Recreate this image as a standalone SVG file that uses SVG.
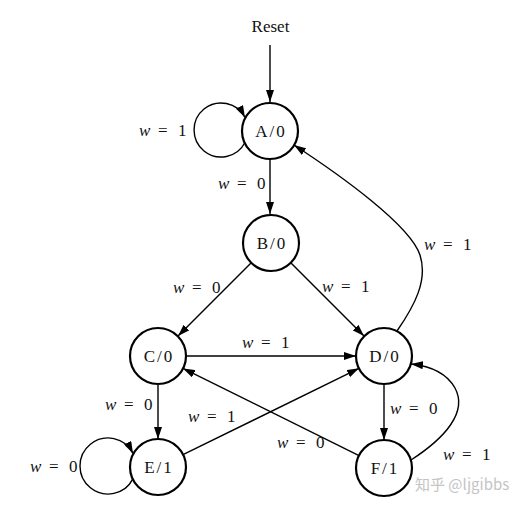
<svg xmlns="http://www.w3.org/2000/svg" width="526" height="507" viewBox="0 0 526 507">
<defs>
<marker id="arr" markerUnits="userSpaceOnUse" markerWidth="12" markerHeight="8" refX="12" refY="4" orient="auto">
<path d="M0,0 L12,4 L0,8 Z" fill="#000"/>
</marker>
<style>
.node circle{fill:#fff;stroke:#000;stroke-width:2.2}
.node text{font-size:17px;text-anchor:middle;fill:#111}
.edges path,.edges line{fill:none;stroke:#000;stroke-width:1.4;marker-end:url(#arr)}
.lbl{font-size:17px;fill:#111}
.lbl .w{font-style:italic}
</style>
</defs>
<rect width="526" height="507" fill="#fff"/>
<g font-family="'Liberation Serif', 'DejaVu Serif', serif">
<text x="270.5" y="32" class="lbl" text-anchor="middle">Reset</text>
<g class="edges">
<line x1="270" y1="45" x2="270" y2="102"/>
<path d="M245,142.5 A27 27 0 1 1 245,117.5"/>
<line x1="270" y1="159" x2="270" y2="214"/>
<line x1="251" y1="263" x2="178" y2="336"/>
<line x1="291" y1="263" x2="364" y2="336"/>
<line x1="186" y1="356" x2="356" y2="356"/>
<line x1="158" y1="385" x2="158" y2="439"/>
<line x1="384" y1="384" x2="384" y2="440"/>
<line x1="183" y1="454.7" x2="359" y2="368.3"/>
<line x1="359" y1="455.6" x2="183" y2="368.4"/>
<path d="M397,331 C415,305 428,280 420,255 C410,225 340,175 294,145"/>
<path d="M411,460 C445,438 468,412 455,388 C446,372 430,366 411,364"/>
<path d="M133,478.6 A28 28 0 1 1 133,453.4"/>
</g>
<g id="A" class="node"><circle cx="270" cy="131" r="28"/><text x="271" y="137" letter-spacing="2">A/0</text></g>
<g id="B" class="node"><circle cx="271" cy="243" r="28"/><text x="272" y="249" letter-spacing="2">B/0</text></g>
<g id="C" class="node"><circle cx="158" cy="356" r="28"/><text x="159" y="362" letter-spacing="2">C/0</text></g>
<g id="D" class="node"><circle cx="384" cy="356" r="28"/><text x="385" y="362" letter-spacing="2">D/0</text></g>
<g id="E" class="node"><circle cx="158" cy="467" r="28"/><text x="159" y="473" letter-spacing="2">E/1</text></g>
<g id="F" class="node"><circle cx="384" cy="468" r="28"/><text x="385" y="474" letter-spacing="2">F/1</text></g>
<g id="labels">
<text class="lbl" y="136"><tspan class="w" x="139">w</tspan><tspan x="158">=</tspan><tspan x="178">1</tspan></text>
<text class="lbl" y="189"><tspan class="w" x="218">w</tspan><tspan x="237">=</tspan><tspan x="257">0</tspan></text>
<text class="lbl" y="293"><tspan class="w" x="173">w</tspan><tspan x="192">=</tspan><tspan x="212">0</tspan></text>
<text class="lbl" y="292"><tspan class="w" x="322">w</tspan><tspan x="341">=</tspan><tspan x="361">1</tspan></text>
<text class="lbl" y="250"><tspan class="w" x="424">w</tspan><tspan x="443">=</tspan><tspan x="463">1</tspan></text>
<text class="lbl" y="348"><tspan class="w" x="242">w</tspan><tspan x="261">=</tspan><tspan x="281">1</tspan></text>
<text class="lbl" y="410"><tspan class="w" x="105">w</tspan><tspan x="124">=</tspan><tspan x="144">0</tspan></text>
<text class="lbl" y="422"><tspan class="w" x="188">w</tspan><tspan x="207">=</tspan><tspan x="227">1</tspan></text>
<text class="lbl" y="414"><tspan class="w" x="390">w</tspan><tspan x="409">=</tspan><tspan x="429">0</tspan></text>
<text class="lbl" y="448"><tspan class="w" x="277">w</tspan><tspan x="296">=</tspan><tspan x="316">0</tspan></text>
<text class="lbl" y="460"><tspan class="w" x="443">w</tspan><tspan x="462">=</tspan><tspan x="482">1</tspan></text>
<text class="lbl" y="472"><tspan class="w" x="30">w</tspan><tspan x="49">=</tspan><tspan x="69">0</tspan></text>
</g>
</g>
<text x="415" y="490" font-family="'Noto Sans CJK SC','Noto Sans',sans-serif" font-size="15" fill="#c4c4c4">知乎 @ljgibbs</text>
</svg>
